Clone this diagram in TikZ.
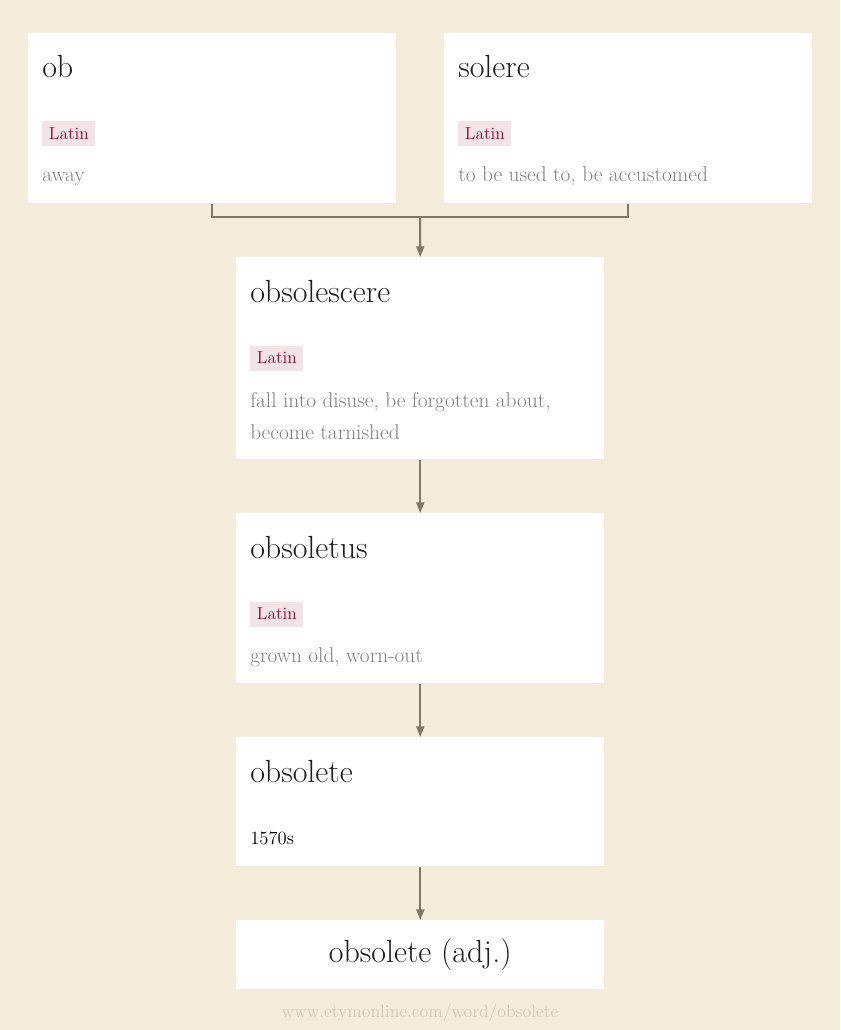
\documentclass[tikz,border=0pt]{standalone}
\usetikzlibrary{arrows.meta}
\definecolor{paper}{HTML}{F3ECDA}
\definecolor{linkcol}{HTML}{7F7766}
\definecolor{tagfill}{HTML}{F2E3E6}
\definecolor{tagtext}{HTML}{8C0A2C}
\definecolor{glosscol}{HTML}{7E7E7E}
\definecolor{footcol}{HTML}{D2C9B6}
\tikzset{
  box/.style={fill=white,inner sep=0pt,anchor=north west,minimum width=276pt},
  head/.style={inner sep=0pt,anchor=base west,font=\fontsize{24}{28}\selectfont,text=black!88},
  lang/.style={fill=tagfill,text=tagtext,inner xsep=5pt,inner ysep=0pt,minimum height=18.75pt,
    anchor=west,font=\fontsize{13}{15}\selectfont},
  gloss/.style={inner sep=0pt,anchor=base west,align=left,text=glosscol,
    font=\fontsize{16}{23.5}\selectfont},
  link/.style={draw=linkcol,line width=1.5pt},
  arr/.style={link,-{Triangle[length=8pt,width=6pt]}}
}
\begin{document}
\begin{tikzpicture}[x=0.75pt,y=-0.75pt]
\fill[paper] (0,0) rectangle (840,1030);
\useasboundingbox (0,0) rectangle (840,1030);
% source words
\node[box,minimum height=127.5pt] (ob) at (28,33) {};
\node[box,minimum height=127.5pt] (solere) at (444,33) {};
\node[head] (obw) at ([shift={(14,45)}]ob.north west) {ob};
\node[lang] (obl) at ([shift={(14,101)}]ob.north west) {Latin};
\node[gloss] (obg) at ([shift={(14,149)}]ob.north west) {away};
\node[head] (solw) at ([shift={(14,45)}]solere.north west) {solere};
\node[lang] (soll) at ([shift={(14,101)}]solere.north west) {Latin};
\node[gloss] (solg) at ([shift={(14,149)}]solere.north west) {to be used to, be accustomed};
% chain
\node[box,minimum height=151.5pt] (obsolescere) at (236,257) {};
\node[head] (oscw) at ([shift={(14,45)}]obsolescere.north west) {obsolescere};
\node[lang] (oscl) at ([shift={(14,101)}]obsolescere.north west) {Latin};
\node[gloss] (oscg) at ([shift={(14,182)}]obsolescere.north west)
  {fall into disuse, be forgotten about,\\become tarnished};
\node[box,minimum height=127.5pt] (obsoletus) at (236,513) {};
\node[head] (ostw) at ([shift={(14,45)}]obsoletus.north west) {obsoletus};
\node[lang] (ostl) at ([shift={(14,101)}]obsoletus.north west) {Latin};
\node[gloss] (ostg) at ([shift={(14,149)}]obsoletus.north west) {grown old, worn-out};
\node[box,minimum height=96.75pt] (obsolete) at (236,737) {};
\node[head] (osew) at ([shift={(14,45)}]obsolete.north west) {obsolete};
\node[inner sep=0pt,anchor=base west,font=\fontsize{14}{16}\selectfont] (osed)
  at ([shift={(14,107)}]obsolete.north west) {1570s};
\node[box,minimum height=51.75pt,font=\fontsize{24}{28}\selectfont,text=black!88] (adj)
  at (236,920) {obsolete (adj.)};
\node[text=footcol,font=\fontsize{13.3}{15}\selectfont] (foot) at (420,1013)
  {www.etymonline.com/word/obsolete};
% connectors
\coordinate (merge) at (420,217);
\draw[link] (ob.south) |- (merge) -| (solere.south);
\draw[arr] (merge) -- (obsolescere.north);
\draw[arr] (obsolescere.south) -- (obsoletus.north);
\draw[arr] (obsoletus.south) -- (obsolete.north);
\draw[arr] (obsolete.south) -- (adj.north);
\end{tikzpicture}
\end{document}
